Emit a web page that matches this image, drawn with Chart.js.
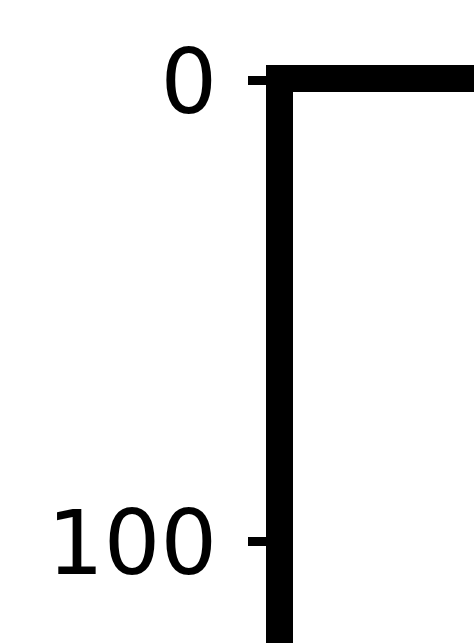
<!DOCTYPE html>
<html>
<head>
<meta charset="utf-8">
<script src="https://cdn.jsdelivr.net/npm/chart.js@4/dist/chart.umd.min.js"></script>
<style>
  html, body { margin: 0; padding: 0; background: #fff; overflow: hidden; }
  canvas { display: block; }
</style>
</head>
<body>
<canvas id="chart" width="474" height="643"></canvas>
<script>
// visible part of the image: only the axes, nothing plotted inside this crop
const rowTicks = [0, 100];
const rowMin = -0.5;
const rowMax = 122;
const cells = [];

const ctx = document.getElementById("chart").getContext("2d");
new Chart(ctx, {
  type: "scatter",
  data: {
    datasets: [{ label: "image", data: cells, backgroundColor: "#000" }],
  },
  options: {
    responsive: false,
    animation: false,
    layout: { padding: 0 },
    plugins: { legend: { display: false }, tooltip: { enabled: false } },
    scales: {
      x: {
        type: "linear",
        position: "top",
        min: 0,
        max: 1,
        ticks: { display: false },
        grid: { drawOnChartArea: false, drawTicks: false },
        border: { display: true, color: "#000", width: 27 },
        afterFit: (s) => {
          s.height = 78;
          s.paddingLeft = 0;
          s.paddingRight = 0;
        },
      },
      y: {
        type: "linear",
        reverse: true,
        min: rowMin,
        max: rowMax,
        afterBuildTicks: (s) => { s.ticks = rowTicks.map((v) => ({ value: v })); },
        afterFit: (s) => {
          s.width = 279.5;
          s.paddingTop = 0;
          s.paddingBottom = 0;
        },
        ticks: {
          color: "#000",
          padding: 31,
          // empty first line nudges the label down to sit centred on its tick
          font: { family: "DejaVu Sans", size: 89, lineHeight: "19px" },
          callback: (v) => ["", String(v)],
        },
        grid: {
          drawOnChartArea: false,
          drawTicks: true,
          tickLength: 31.5,
          tickWidth: 9,
          tickColor: "#000",
        },
        border: { display: true, color: "#000", width: 27 },
      },
    },
  },
});
</script>
</body>
</html>
